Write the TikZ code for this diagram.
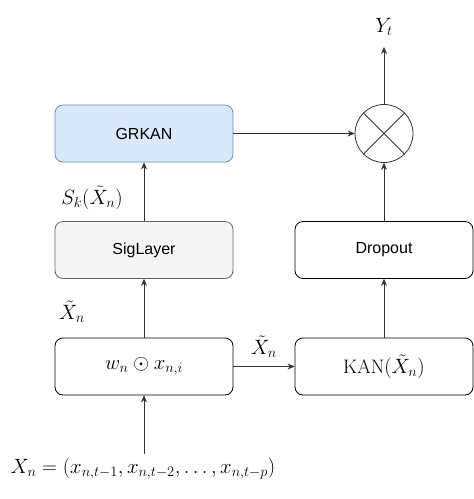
\documentclass[tikz,border=0pt]{standalone}
\usepackage{fontspec}
\setsansfont{Liberation Sans}
\usetikzlibrary{arrows.meta, positioning}
\definecolor{gkblue}{HTML}{DAE8FC}
\definecolor{gkblueline}{HTML}{6C8EBF}
\definecolor{gkgray}{HTML}{F5F5F5}
\definecolor{gkgrayline}{HTML}{666666}
\definecolor{gkline}{HTML}{333333}

\begin{document}
\begin{tikzpicture}[
    x=1pt, y=-1pt,
    >={Stealth[length=7pt, width=6pt]},
    block/.style={draw=#1, rounded corners=8pt, minimum width=178pt, minimum height=57pt,
                  line width=0.8pt, align=center},
    sflabel/.style={font=\sffamily\fontsize{16}{19}\selectfont},
    mathlabel/.style={font=\fontsize{19.5}{23}\selectfont},
    flow/.style={->, gkline, line width=0.8pt},
]

% Frame of the page
\useasboundingbox (0,0) rectangle (474,499);

% Left column
\node[block=gkblueline, fill=gkblue, sflabel] (grkan) at (144,133.5) {GRKAN};
\node[block=gkgrayline, fill=gkgray, sflabel] (sig) at (144,250) {SigLayer};
\node[block=black, fill=white, mathlabel] (weight) at (144,366.5) {$w_n \odot x_{n,i}$};

% Right column
\node[block=black, fill=white, sflabel] (drop) at (384,250) {Dropout};
\node[block=black, fill=white, mathlabel] (kan) at (384,366.5) {$\mathrm{KAN}(\tilde{X}_n)$};

% Product node
\node[circle, draw=gkline, line width=0.8pt, minimum size=58pt, inner sep=0pt] (prod) at (384,133.5) {};
\draw[gkline, line width=0.8pt] (prod.north east) -- (prod.south west);
\draw[gkline, line width=0.8pt] (prod.north west) -- (prod.south east);

% Input and output texts
\node[mathlabel, font=\fontsize{20.5}{24}\selectfont] (input) at (143,469) {$X_n = (x_{n,t-1}, x_{n,t-2}, \ldots, x_{n,t-p})$};
\node[mathlabel] (out) at (384,27) {$Y_t$};
\coordinate (outtip) at (384,47);
\coordinate (intail) at (144,454);

% Arrows
\draw[flow] (intail) -- (weight.south);
\draw[flow] (weight.north) -- (sig.south);
\draw[flow] (sig.north) -- (grkan.south);
\draw[flow] (weight.east) -- (kan.west);
\draw[flow] (kan.north) -- (drop.south);
\draw[flow] (drop.north) -- (prod.south);
\draw[flow] (grkan.east) -- (prod.west);
\draw[flow] (prod.north) -- (outtip);

% Edge labels
\node[mathlabel] (lbltilde) at (72,312) {$\tilde{X}_n$};
\node[mathlabel] (lblsig) at (92,198) {$S_k(\tilde{X}_n)$};
\node[mathlabel] (lblkan) at (264,347) {$\tilde{X}_n$};

\end{tikzpicture}
\end{document}
